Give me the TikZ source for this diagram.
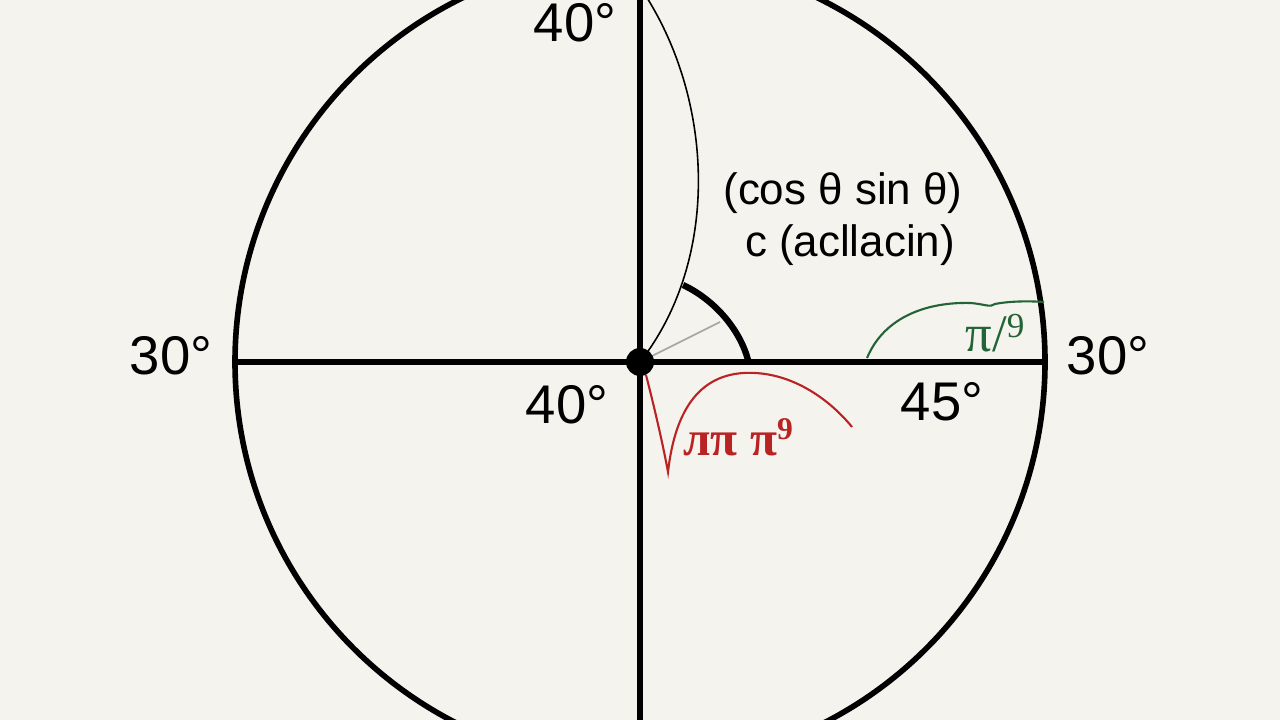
\documentclass[tikz,border=0pt]{standalone}
\usepackage{fontspec}
\usepackage{amsmath}
\setmainfont{Liberation Sans}
\newfontfamily\redfont{Liberation Serif}
\usetikzlibrary{positioning}
\tikzset{circ/.style = {fill, circle, inner sep = 0, minimum size = 2.8mm}}
\tikzset{deg/.style = {inner sep = 0, font = \fontsize{15.5}{18}\selectfont}}
\tikzset{axis/.style = {line width = 1.6pt}}
\definecolor{paper}{RGB}{245, 243, 238}
\definecolor{mgreen}{RGB}{35, 100, 55}
\definecolor{mred}{RGB}{185, 35, 35}
\begin{document}
\begin{tikzpicture}
      \fill [paper] (0, 0) rectangle (12.8, 7.2);
      \useasboundingbox (0, 0) rectangle (12.8, 7.2);
      \clip (0, 0) rectangle (12.8, 7.2);

      \coordinate (o) at (6.40, 3.58);
      \draw [axis] (o) circle [radius=4.05];
      \draw [axis] (2.35, 3.58) -- (10.45, 3.58);
      \draw [axis] (6.40, -0.5) -- (6.40, 7.7);

      \draw [line width=0.45pt] (6.42, 7.3) .. controls (7.15, 6.2) and (7.2, 4.6) .. (o);
      \draw [black!35, line width=0.5pt] (o) -- (7.20, 3.98);
      \draw [line width=1.8pt] (6.83, 4.35) .. controls (7.15, 4.2) and (7.4, 3.9) .. (7.48, 3.60);

      \draw [mgreen, line width=0.6pt] (8.67, 3.62) .. controls (8.85, 4.05) and (9.3, 4.18) .. (9.7, 4.17)
            .. controls (9.85, 4.16) and (9.9, 4.12) .. (9.95, 4.16) .. controls (10.1, 4.19) and (10.3, 4.19) .. (10.44, 4.18);
      \draw [mred, line width=0.6pt] (6.46, 3.45) .. controls (6.55, 3.1) and (6.63, 2.75) .. (6.68, 2.48)
            .. controls (6.75, 3.1) and (7.0, 3.5) .. (7.55, 3.47) .. controls (7.95, 3.45) and (8.3, 3.2) .. (8.52, 2.93);

      \node [circ] (p) at (o) {};

      \node [deg] (top) at (5.75, 6.97) {40°};
      \node [deg] (mid) at (5.67, 3.15) {40°};
      \node [deg] (quart) at (9.42, 3.18) {45°};
      \node [deg] (left) at (1.71, 3.64) {30°};
      \node [deg] (right) at (11.08, 3.64) {30°};

      \node [inner sep=0, font=\fontsize{12.5}{15}\selectfont] (point) at (8.43, 5.27) {(cos θ sin θ)};
      \node [inner sep=0, font=\fontsize{12.5}{15}\selectfont] (calc) at (8.50, 4.75) {c (acllacin)};

      \node [mgreen, inner sep=0, font=\redfont\fontsize{15}{18}\selectfont] (ratio) at (9.95, 3.87) {π/\raisebox{0.6ex}{\fontsize{10}{12}\selectfont 9}};
      \node [mred, inner sep=0, font=\redfont\bfseries\fontsize{14}{17}\selectfont] (angle) at (7.38, 2.83) {лπ\ π\raisebox{0.7ex}{\fontsize{9}{11}\selectfont 9}};
    \end{tikzpicture}
\end{document}
